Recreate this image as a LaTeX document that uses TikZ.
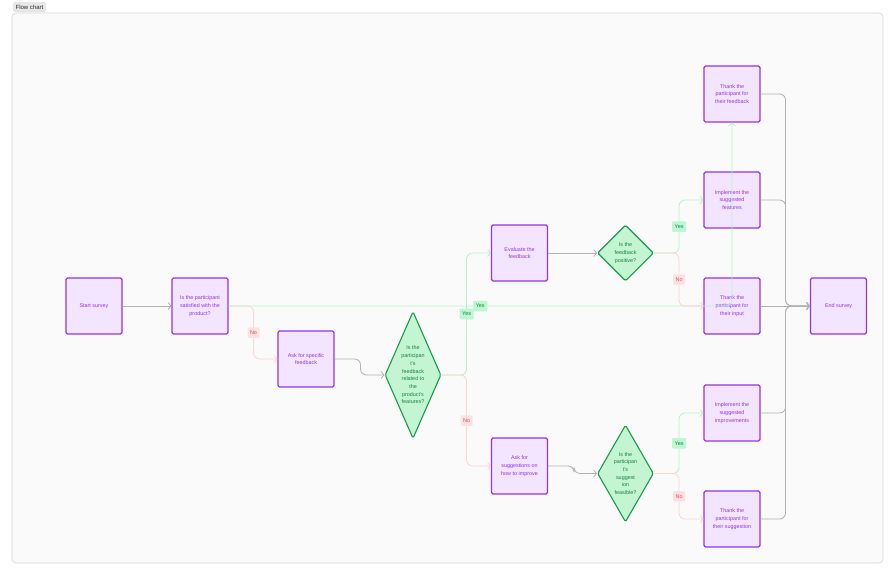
\documentclass[tikz,border=0pt]{standalone}
\usepackage{fontspec}
\setmainfont{Liberation Sans}
\usetikzlibrary{shapes.geometric,arrows.meta}
\definecolor{boxfill}{HTML}{F3E5FF}
\definecolor{boxdraw}{HTML}{9333EA}
\definecolor{boxtext}{HTML}{9333EA}
\definecolor{diafill}{HTML}{C4F5D3}
\definecolor{diadraw}{HTML}{1A9A4A}
\definecolor{diatext}{HTML}{15803D}
\definecolor{yesline}{HTML}{B5F2C6}
\definecolor{noline}{HTML}{FFD4D4}
\definecolor{grayline}{HTML}{B2B2B2}
\definecolor{yesfill}{HTML}{BBF7D0}
\definecolor{nofill}{HTML}{FEE2E2}
\definecolor{notext}{HTML}{EF4444}
\definecolor{framefill}{HTML}{FAFAFA}
\definecolor{framedraw}{HTML}{D6D6D6}
\tikzset{
  tiny/.style={font=\fontsize{5.4}{7.7}\selectfont},
  procbox/.style={draw=boxdraw, fill=boxfill, line width=1.1pt, rounded corners=1.5pt,
    minimum width=56pt, minimum height=56pt, inner sep=0pt, text=boxtext, align=center, tiny},
  decision/.style={diamond, draw=diadraw, fill=diafill, line width=1.1pt, rounded corners=1.5pt,
    inner sep=0pt, aspect=1},
  dtext/.style={text=diatext, align=center, tiny},
  conn/.style={line width=0.8pt, rounded corners=6pt, -{Straight Barb[length=2.8pt,width=7pt,line width=0.8pt]}},
  grayc/.style={conn, draw=grayline},
  yesc/.style={conn, draw=yesline},
  noc/.style={conn, draw=noline},
  edgelab/.style={tiny, rounded corners=0.8pt, inner xsep=2.6pt, inner ysep=0pt,
    minimum height=10.5pt, draw=none},
  yeslab/.style={edgelab, fill=yesfill, text=diatext},
  nolab/.style={edgelab, fill=nofill, text=notext},
}
\begin{document}
\begin{tikzpicture}[x=1pt,y=-1pt]
\useasboundingbox (0,0) rectangle (895,576);
\fill[white] (0,0) rectangle (895,576);
\node[draw=framedraw, fill=framefill, rounded corners=4pt, line width=0.6pt,
  minimum width=871pt, minimum height=550pt, inner sep=0pt] (frame) at (447.5,288) {};
\node[draw=framedraw, fill=black!9, rounded corners=2.5pt, line width=0.4pt,
  font=\fontsize{6}{7}\selectfont, text=black!85, inner xsep=2.4pt, inner ysep=0pt, minimum height=9.5pt] (tag) at (29.5,7) {Flow chart};

% process boxes
\node[procbox] (start) at (94,306) {Start survey};
\node[procbox] (sat) at (200,306) {Is the participant\\satisfied with the\\product?};
\node[procbox] (askspec) at (306,359) {Ask for specific\\feedback};
\node[procbox] (eval) at (519.5,253) {Evaluate the\\feedback};
\node[procbox] (asksugg) at (519.5,466) {Ask for\\suggestions on\\how to improve};
\node[procbox] (thankfb) at (732,94) {Thank the\\participant for\\their feedback};
\node[procbox] (implfeat) at (732,200) {Implement the\\suggested\\features};
\node[procbox] (thankin) at (732,306) {Thank the\\participant for\\their input};
\node[procbox] (endn) at (838.5,306) {End survey};
\node[procbox] (implimp) at (732,413) {Implement the\\suggested\\improvements};
\node[procbox] (thanksugg) at (732,519) {Thank the\\participant for\\their suggestion};

% decisions
\node[decision, minimum width=56pt, minimum height=127pt,
  label={[dtext]center:{Is the\\participan\\t's\\feedback\\related to\\the\\product's\\features?}}] (d1) at (413,375) {};
\node[decision, minimum width=56pt, minimum height=56pt,
  label={[dtext]center:{Is the\\feedback\\positive?}}] (d2) at (625.5,253) {};
\node[decision, minimum width=56pt, minimum height=97pt,
  label={[dtext]center:{Is the\\participan\\t's\\suggest\\ion\\feasible?}}] (d3) at (625.5,473.5) {};

% connectors
\draw[grayc] (start.east) -- (sat.west);
\draw[yesc] (sat.east) -| node[pos=0.25, yeslab] (ly0) {Yes} (thankfb.south);
\draw[noc] (sat.east) -- ++(25,0) |- node[pos=0.25, nolab] (ln0) {No} (askspec.west);
\draw[grayc] (askspec.east) -- ++(26,0) |- (d1.west);
\draw[yesc] (d1.east) -- ++(25,0) |- node[pos=0.25, yeslab] (ly1) {Yes} (eval.west);
\draw[noc] (d1.east) -- ++(25,0) |- node[pos=0.25, nolab] (ln1) {No} (asksugg.west);
\draw[grayc] (eval.east) -- (d2.west);
\draw[yesc] (d2.east) -- ++(25,0) |- node[pos=0.25, yeslab] (ly2) {Yes} (implfeat.west);
\draw[noc] (d2.east) -- ++(25,0) |- node[pos=0.25, nolab] (ln2) {No} (thankin.west);
\draw[grayc] (asksugg.east) -- ++(26,0) |- (d3.west);
\draw[yesc] (d3.east) -- ++(25,0) |- node[pos=0.25, yeslab] (ly3) {Yes} (implimp.west);
\draw[noc] (d3.east) -- ++(25,0) |- node[pos=0.25, nolab] (ln3) {No} (thanksugg.west);
\draw[grayc] (thankfb.east) -- ++(25,0) |- (endn.west);
\draw[grayc] (implfeat.east) -- ++(25,0) |- (endn.west);
\draw[grayc] (thankin.east) -- (endn.west);
\draw[grayc] (implimp.east) -- ++(25,0) |- (endn.west);
\draw[grayc] (thanksugg.east) -- ++(25,0) |- (endn.west);
\end{tikzpicture}
\end{document}
